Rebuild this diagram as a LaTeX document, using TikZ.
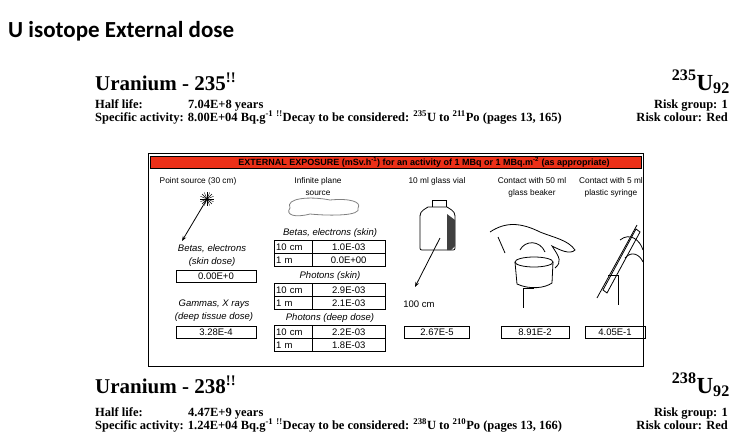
\documentclass[tikz,border=0pt]{standalone}
\usepackage{fontspec}
\setmainfont{Liberation Serif}
\newfontfamily\tabfont{Liberation Sans}
\newfontfamily\ttlfont{Carlito}
\usetikzlibrary{arrows.meta}
\definecolor{hdrred}{RGB}{236,48,24}
\tikzset{
  hd/.style={font=\tabfont\fontsize{8.3}{12}\selectfont, align=center},
  it/.style={font=\tabfont\itshape\fontsize{9.5}{10}\selectfont},
  valbox/.style={draw, thick, font=\tabfont\fontsize{9.5}{10}\selectfont, inner sep=0pt},
  cell/.style={draw, font=\tabfont\fontsize{9.5}{10}\selectfont, inner sep=0pt, minimum height=13pt},
  ser/.style={font=\bfseries\fontsize{12.5}{13}\selectfont, anchor=base west, inner sep=0pt},
  serr/.style={font=\bfseries\fontsize{12.5}{13}\selectfont, anchor=base east, inner sep=0pt},
  big/.style={font=\bfseries\fontsize{21}{22}\selectfont, anchor=base west, inner sep=0pt},
  bigr/.style={font=\bfseries\fontsize{23}{24}\selectfont, anchor=base east, inner sep=0pt},
  arr/.style={-{Stealth[length=5pt]}, thick},
  sketch/.style={thick}
}
\begin{document}
\begin{tikzpicture}[x=1pt,y=-1pt]
\useasboundingbox (0,0) rectangle (756,442);
\node[anchor=base west, inner sep=0pt, font=\ttlfont\bfseries\fontsize{23}{24}\selectfont] (title) at (8,37) {U isotope External dose};
% U-235 header
\node[big] (u235) at (95,90) {Uranium - 235\textsuperscript{!!}};
\node[bigr] (sym235) at (730,90) {\textsuperscript{235}U\textsubscript{92}};
\node[ser] (hl1a) at (95,108) {Half life:};
\node[ser] (hl1b) at (188,108) {7.04E+8 years};
\node[ser] (sa1) at (95,121) {Specific activity: 8.00E+04 Bq.g\textsuperscript{-1} \textsuperscript{!!}Decay to be considered: \textsuperscript{235}U to \textsuperscript{211}Po (pages 13, 165)};
\node[serr] (rg1) at (728,108) {Risk group: 1};
\node[serr] (rc1) at (728,121) {Risk colour: Red};
% table frame
\draw[thick] (148,153) rectangle (643,366);
\fill[hdrred] (150,156) rectangle (641,168);
\draw (150,156) rectangle (641,168);
\node[hd, font=\tabfont\bfseries\fontsize{9}{10}\selectfont] (hdr) at (424,162) {EXTERNAL EXPOSURE (mSv.h\textsuperscript{-1}) for an activity of 1 MBq or 1 MBq.m\textsuperscript{-2} (as appropriate)};
% column heads
\node[hd] (c1) at (198,181) {Point source (30 cm)};
\node[hd] (c2) at (318,187) {Infinite plane\\source};
\node[hd] (c3) at (437,181) {10 ml glass vial};
\node[hd] (c4) at (532,187) {Contact with 50 ml\\glass beaker};
\node[hd] (c5) at (611,187) {Contact with 5 ml\\plastic syringe};
% col1
\coordinate (star) at (207,199);
\foreach \a in {0,22.5,...,337.5} \draw (star) -- ++(\a:7);
\coordinate (a1) at (182,241);
\draw[arr] (star) -- (a1);
\node[it] (b1) at (212,249) {Betas, electrons};
\node[it] (b2) at (212,262) {(skin dose)};
\node[valbox, minimum width=80pt, minimum height=12pt] (v1) at (216,276) {0.00E+0};
\node[it] (g1) at (214,304) {Gammas, X rays};
\node[it] (g2) at (214,317) {(deep tissue dose)};
\node[valbox, minimum width=80pt, minimum height=12pt] (v2) at (216,332) {3.28E-4};
% col2 cloud
\draw[sketch, gray] (290,208) .. controls (285,198) and (310,196) .. (330,200) .. controls (350,198) and (362,202) .. (358,208) .. controls (362,216) and (330,216) .. (310,214) .. controls (295,218) and (285,215) .. (290,208);
\node[it] (p1) at (330,233) {Betas, electrons (skin)};
\node[it] (p2) at (330,276) {Photons (skin)};
\node[it] (p3) at (330,318) {Photons (deep dose)};
\foreach \y/\d/\v [count=\i] in {247/10 cm/1.0E-03, 260/1 m/0.0E+00, 290/10 cm/2.9E-03, 303/1 m/2.1E-03, 332/10 cm/2.2E-03, 345/1 m/1.8E-03}{
  \node[cell, minimum width=38pt, anchor=west, text width=36pt, align=left] (d\i) at (274,\y) {\hspace{1pt}\d};
  \node[cell, minimum width=73pt, anchor=west] (e\i) at (312,\y) {\v};
}
% col3 vial
\draw[sketch] (432,200) rectangle (446,207);
\draw[sketch, fill=white] (428,207) .. controls (420,212) .. (420,220) -- (420,246) .. controls (420,250) .. (424,250) -- (451,250) .. controls (455,250) .. (455,246) -- (455,220) .. controls (455,212) .. (447,207) -- cycle;
\fill[black!75] (447,214) -- (455,220) -- (455,246) -- (451,250) -- (447,250) -- cycle;
\coordinate (vs) at (440,238);
\coordinate (ve) at (415,287);
\draw[arr] (vs) -- (ve);
\node[hd, font=\tabfont\fontsize{9.5}{10}\selectfont] (cm) at (419,304) {100 cm};
\node[valbox, minimum width=65pt, minimum height=12pt] (v3) at (437,332) {2.67E-5};
% col4 hand and beaker
\draw[sketch] (490,232) .. controls (505,222) and (520,222) .. (540,232) .. controls (555,238) and (568,240) .. (575,250) .. controls (570,255) and (560,250) .. (552,246) .. controls (560,258) and (562,262) .. (555,268);
\draw[sketch] (498,237) .. controls (502,245) .. (505,253);
\draw[sketch] (520,250) .. controls (525,240) and (540,240) .. (545,252);
\draw[sketch] (515,262) -- (517,284) .. controls (530,290) and (545,288) .. (552,283) -- (553,262);
\draw[sketch] (534,262) ellipse (19pt and 5pt);
\draw[sketch] (523,288) -- (523,308);
\draw (523,288) -- (534,288);
\node[valbox, minimum width=68pt, minimum height=12pt] (v4) at (535,332) {8.91E-2};
% col5 syringe
\draw[sketch] (597,298) -- (637,225);
\draw[sketch] (603,290) -- (607,293) -- (640,232) -- (636,229) -- cycle;
\draw[sketch] (620,240) .. controls (630,232) and (640,240) .. (643,250);
\draw[sketch] (625,258) .. controls (632,250) and (640,255) .. (643,262);
\draw (608,275) -- (618,275) -- (618,305);
\node[valbox, minimum width=60pt, minimum height=12pt] (v5) at (615,332) {4.05E-1};
% U-238
\node[big] (u238) at (95,393) {Uranium - 238\textsuperscript{!!}};
\node[bigr] (sym238) at (730,393) {\textsuperscript{238}U\textsubscript{92}};
\node[ser] (hl2a) at (95,416) {Half life:};
\node[ser] (hl2b) at (188,416) {4.47E+9 years};
\node[ser] (sa2) at (95,429) {Specific activity: 1.24E+04 Bq.g\textsuperscript{-1} \textsuperscript{!!}Decay to be considered: \textsuperscript{238}U to \textsuperscript{210}Po (pages 13, 166)};
\node[serr] (rg2) at (728,416) {Risk group: 1};
\node[serr] (rc2) at (728,429) {Risk colour: Red};
\end{tikzpicture}
\end{document}
